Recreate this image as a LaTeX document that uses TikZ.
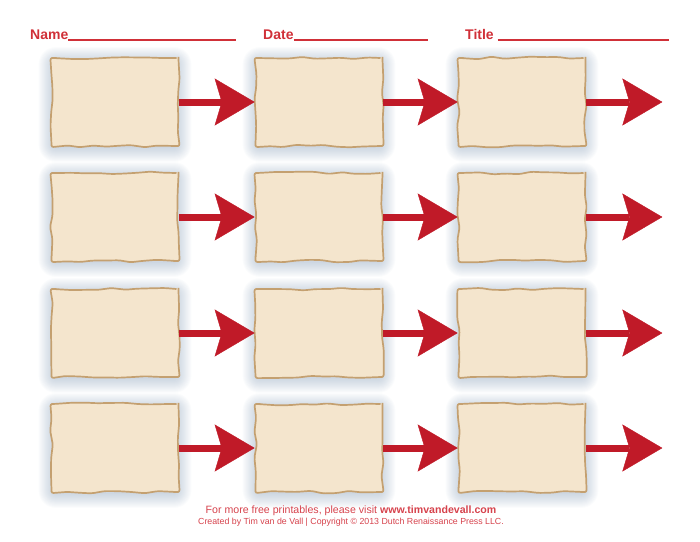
\documentclass[tikz,border=0pt]{standalone}
\usepackage{fontspec}
\setmainfont{Liberation Sans}
\usetikzlibrary{arrows.meta,decorations.pathmorphing,calc}

\definecolor{hdred}{RGB}{208,48,56}
\definecolor{ftred}{RGB}{214,66,76}
\definecolor{paper}{RGB}{244,229,205}
\definecolor{paperedge}{RGB}{196,160,112}
\definecolor{arrred}{RGB}{192,26,40}
\definecolor{glow}{RGB}{125,150,178}

\pgfdeclarelayer{background}
\pgfsetlayers{background,main}

\tikzset{
  paperbox/.style={draw=paperedge, line width=1.7pt, fill=paper,
    minimum width=127pt, minimum height=88pt, inner sep=0pt,
    decorate, decoration={random steps, segment length=13pt, amplitude=1.4pt},
    rounded corners=2pt},
  redarrow/.style={draw=arrred, line width=7pt,
    -{Stealth[length=40pt, width=47pt, inset=7pt, line width=0.4pt]}},
  header/.style={anchor=base west, inner sep=0pt, text=hdred,
    font=\fontsize{14}{16}\selectfont\bfseries},
  footer/.style={anchor=base, inner sep=0pt, text=ftred},
}

\begin{document}
\begin{tikzpicture}[x=1pt, y=-1pt]
    \useasboundingbox (0,0) rectangle (700,541);
    \pgfmathsetseed{11}

    % header fields
    \node[header] (name) at (30,39) {Name\rule[-1.6pt]{168pt}{1.8pt}};
    \node[header] (date) at (263,39) {Date\rule[-1.6pt]{134pt}{1.8pt}};
    \node[header] (title) at (465,39) {Title\hspace{4pt}\rule[-1.6pt]{171pt}{1.8pt}};

    % parchment boxes
    \foreach \r/\y in {1/102,2/217,3/333,4/448}
      \foreach \c/\x in {1/115,2/319,3/522}
        \node[paperbox] (b\r\c) at (\x,\y) {};

    % soft glow behind the boxes
    \begin{pgfonlayer}{background}
      \foreach \r in {1,...,4}
        \foreach \c in {1,2,3}
          \foreach \k in {1,...,15}
            \fill[glow, opacity=0.03, rounded corners=\k pt+2pt]
              ($(b\r\c.north west)+(-\k pt+3pt,\k pt-5pt)$) rectangle
              ($(b\r\c.south east)+(\k pt-3pt,-\k pt)$);
    \end{pgfonlayer}

    % arrows
    \foreach \r in {1,...,4} {
      \coordinate (e\r) at ($(b\r3.east)+(76pt,0pt)$);
      \draw[redarrow] (b\r1.east) -- (b\r2.west);
      \draw[redarrow] (b\r2.east) -- (b\r3.west);
      \draw[redarrow] (b\r3.east) -- (e\r);
    }

    % footer
    \node[footer, font=\fontsize{10.6}{12}\selectfont] (more) at (351,513)
      {For more free printables, please visit \textbf{www.timvandevall.com}};
    \node[footer, font=\fontsize{8.8}{10}\selectfont] (credit) at (351,524)
      {Created by Tim van de Vall | Copyright © 2013 Dutch Renaissance Press LLC.};
\end{tikzpicture}
\end{document}
